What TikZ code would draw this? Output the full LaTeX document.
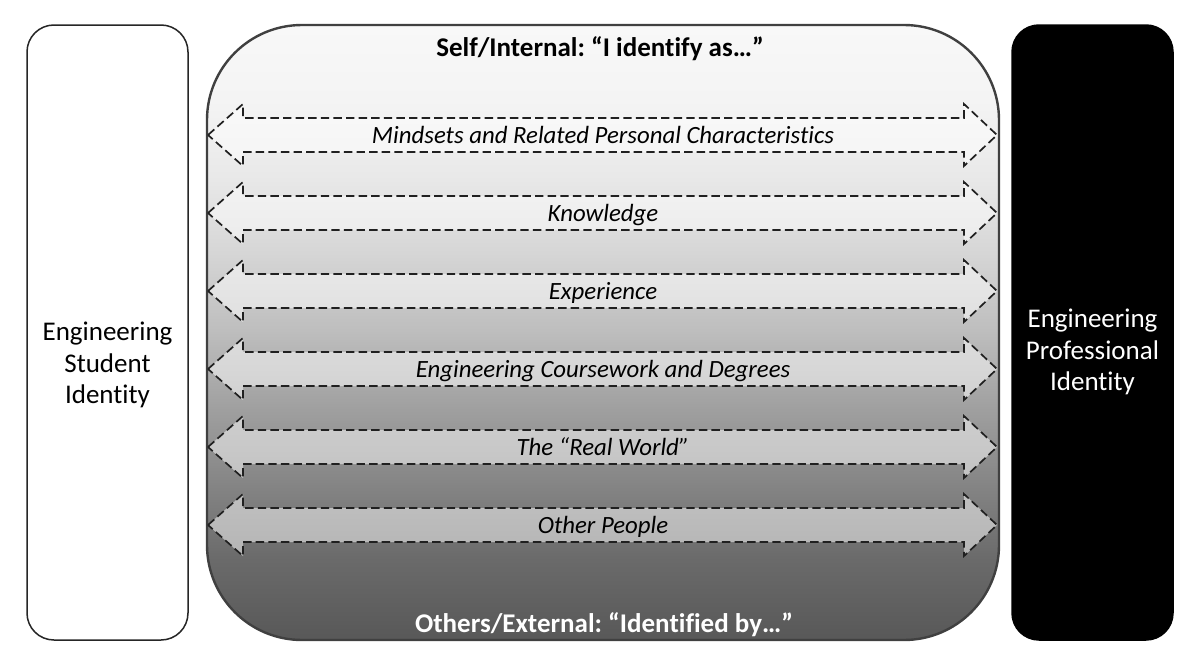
\documentclass[tikz,border=0pt]{standalone}
\usepackage{fontspec}
\setmainfont{Carlito}[RawFeature={-liga;-clig;-calt;-dlig}]
\frenchspacing
\definecolor{s0}{RGB}{88,88,88}
\definecolor{s1}{RGB}{106,106,106}
\definecolor{s2}{RGB}{132,132,132}
\definecolor{s3}{RGB}{160,160,160}
\definecolor{s4}{RGB}{190,190,190}
\definecolor{s5}{RGB}{214,214,214}
\definecolor{s6}{RGB}{233,233,233}
\definecolor{s7}{RGB}{244,244,244}
\definecolor{s8}{RGB}{248,248,248}
\definecolor{mainline}{RGB}{64,64,64}
\definecolor{boxline}{RGB}{38,38,38}
\definecolor{dashline}{RGB}{32,32,32}
\pgfdeclareverticalshading{bgshade}{100bp}{color(0bp)=(s0); color(25bp)=(s0); color(31.5bp)=(s1); color(37.5bp)=(s2); color(43.9bp)=(s3); color(50.2bp)=(s4); color(56.5bp)=(s5); color(62.8bp)=(s6); color(68.9bp)=(s7); color(75bp)=(s8); color(100bp)=(s8)}
\tikzset{
  sidebox/.style={rectangle, rounded corners=13.5pt, minimum width=80.5pt, minimum height=307.5pt, inner sep=0pt, line width=0.75pt},
  mainbox/.style={rectangle, rounded corners=47.5pt, minimum width=396pt, minimum height=307.5pt, inner sep=0pt, shading=bgshade, draw=mainline, line width=1.2pt},
  sidetext/.style={align=center, inner sep=0pt, font=\fontsize{13.5pt}{15.8pt}\selectfont},
  toptext/.style={inner sep=0pt, font=\fontsize{13.5pt}{16pt}\selectfont\bfseries},
  arrowband/.style={draw=dashline, dash pattern=on 4.2pt off 2.1pt, line width=0.85pt, fill=white, fill opacity=0.5},
  bandlabel/.style={inner sep=0pt, font=\fontsize{12.4pt}{14pt}\selectfont\itshape}
}
\begin{document}
\begin{tikzpicture}[x=0.5pt,y=-0.5pt]
\useasboundingbox (0,0) rectangle (1200,664);
\fill[white] (0,0) rectangle (1200,664);
\node[sidebox, draw=boxline, fill=white] (student) at (107.5,332.5) {};
\node[sidebox, draw=black, fill=black] (prof) at (1092.5,332.5) {};
\node[mainbox] (main) at (603,332.5) {};
\node[sidetext] (studenttext) at (107.5,365) {Engineering\\Student\\Identity};
\node[sidetext, text=white] (proftext) at (1092.5,352) {Engineering\\Professional\\Identity};
\node[toptext, anchor=base] (self) at (600,56) {Self/Internal: “I identify as…”};
\node[toptext, text=white, anchor=base] (others) at (604,632) {Others/External: “Identified by…”};
\foreach \c/\t [count=\i] in {135/Mindsets and Related Personal Characteristics, 213/Knowledge, 291/Experience, 369/Engineering Coursework and Degrees, 447/The “Real World”, 525/Other People}{
  \draw[arrowband] (208,\c) -- (243,\c-31) -- (243,\c-17) -- (964,\c-17) -- (964,\c-31) -- (997,\c) -- (964,\c+31) -- (964,\c+17) -- (243,\c+17) -- (243,\c+31) -- cycle;
  \node[bandlabel, anchor=base] (band\i) at (603,\c+8.5) {\t};
}
\end{tikzpicture}
\end{document}
